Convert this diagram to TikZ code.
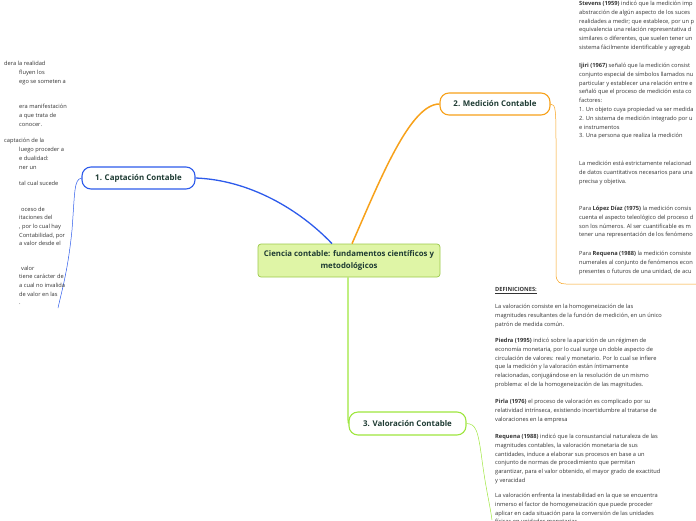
\documentclass[tikz,border=0pt]{standalone}
\usepackage{fontspec}
\setmainfont{Open Sans}
\definecolor{txt}{HTML}{333333}
\definecolor{ttl}{HTML}{1E3B33}
\definecolor{cblue}{HTML}{2D5BEB}
\definecolor{corange}{HTML}{F7A11A}
\definecolor{cgreen}{HTML}{9EE63E}
\definecolor{cfill}{HTML}{DFF5A6}
\definecolor{cborder}{HTML}{9CC94A}
\begin{document}
\begin{tikzpicture}[x=1pt,y=-1pt,
  body/.style={anchor=north west,inner sep=0pt,align=left,text=txt,font=\fontsize{5.7}{8.8}\selectfont},
  topic/.style={draw,rounded corners=9pt,line width=1.1pt,fill=white,text=ttl,font=\fontsize{7.9}{9}\selectfont\bfseries,inner sep=0pt},
]
\useasboundingbox (0,0) rectangle (696,520);
\begin{scope}
\clip (0,0) rectangle (696,520);
% central
\node[draw=cborder,fill=cfill,rounded corners=3pt,line width=0.7pt,minimum width=182pt,minimum height=33pt,align=center,text=ttl,font=\fontsize{7.8}{11.5}\selectfont\bfseries,inner sep=0pt] (c) at (349,260.5) {Ciencia contable: fundamentos científicos y\\metodológicos};
\node[topic,draw=cblue,minimum width=113pt,minimum height=22pt] (t1) at (138.5,178) {1. Captación Contable};
\node[topic,draw=corange,minimum width=110pt,minimum height=22pt] (t2) at (495,104) {2. Medición Contable};
\node[topic,draw=cgreen,minimum width=117pt,minimum height=23pt] (t3) at (407.5,423.5) {3. Valoración Contable};
% main connectors
\draw[cblue,line width=1.3pt] (c.north) ++(-17,0) coordinate (cb) (cb) .. controls (300,210) and (250,180) .. (t1.east);
\draw[corange,line width=1.5pt] (c.north) ++(3,0) coordinate (co) (co) .. controls (380,180) and (410,104) .. (t2.west);
\draw[cgreen,line width=1.3pt] (c.south) ++(-1,0) coordinate (cg) (cg) -- (348,412) .. controls (348,420) .. (t3.west);
% sub connectors
\coordinate (l1) at (58,308);
\draw[cblue,line width=0.5pt] (t1.west) .. controls (74,180) and (75,190) .. (72,230) .. controls (68,270) and (62,290) .. (l1);
\coordinate (r2a) at (566,284);
\coordinate (r2b) at (696,284);
\draw[corange,line width=0.5pt] (t2.east) .. controls (556,104) and (556,110) .. (556,150) -- (556,274) .. controls (556,282) and (560,284) .. (r2a) -- (r2b);
\coordinate (r3) at (492,520);
\draw[cgreen,line width=0.5pt] (t3.east) .. controls (476,424) and (478,430) .. (482,460) .. controls (486,490) and (490,505) .. (r3);
% left texts
\node[body,anchor=north west] (a1) at (4,61) {dera la realidad};
\node[body] (a2) at (19,70) {fluyen los\\ego se someten a};
\node[body] (a3) at (19,104) {era manifestación\\a que trata de\\conocer.};
\node[body] (a4) at (4,138) {captación de la};
\node[body] (a5) at (19,147) {luego proceder a\\e dualidad:\\ner un};
\node[body] (a6) at (19,181) {tal cual sucede};
\node[body] (a7) at (21,207) {oceso de};
\node[body] (a8) at (19,215) {itaciones del\\, por lo cual hay\\Contabilidad, por\\a valor desde el};
\node[body] (a9) at (21,266) {valor};
\node[body] (a10) at (19,274) {tiene carácter de\\a cual no invalida\\de valor en las\\.};
% right top texts
\node[body] (m1) at (579,1) {\textbf{Stevens (1959)} indicó que la medición imp\\abstracción de algún aspecto de los suces\\realidades a medir; que establece, por un p\\equivalencia una relación representativa d\\similares o diferentes, que suelen tener un\\sistema fácilmente identificable y agregab};
\node[body] (m2) at (579,63) {\textbf{Ijiri (1967)} señaló que la medición consist\\conjunto especial de símbolos llamados nu\\particular y establecer una relación entre e\\señaló que el proceso de medición esta co\\factores:\\1. Un objeto cuya propiedad va ser medida\\2. Un sistema de medición integrado por u\\e instrumentos\\3. Una persona que realiza la medición};
\node[body] (m3) at (579,161) {La medición está estrictamente relacionad\\de datos cuantitativos necesarios para una\\precisa y objetiva.};
\node[body] (m4) at (579,206) {Para \textbf{López Díaz (1975)} la medición consis\\cuenta el aspecto teleológico del proceso d\\son los números. Al ser cuantificable es m\\tener una representación de los fenómeno};
\node[body] (m5) at (579,251) {Para \textbf{Requena (1988)} la medición consiste\\numerales al conjunto de fenómenos econ\\presentes o futuros de una unidad, de acu};
% bottom texts
\node[body] (v0) at (495,287) {\textbf{\underline{DEFINICIONES:}}};
\node[body] (v1) at (495,304) {La valoración consiste en la homogeneización de las\\magnitudes resultantes de la función de medición, en un único\\patrón de medida común.};
\node[body] (v2) at (495,338) {\textbf{Piedra (1995)} indicó sobre la aparición de un régimen de\\economía monetaria, por lo cual surge un doble aspecto de\\circulación de valores: real y monetario. Por lo cual se infiere\\que la medición y la valoración están íntimamente\\relacionadas, conjugándose en la resolución de un mismo\\problema: el de la homogeneización de las magnitudes.};
\node[body] (v3) at (495,399) {\textbf{Pirla (1976)} el proceso de valoración es complicado por su\\relatividad intrínseca, existiendo incertidumbre al tratarse de\\valoraciones en la empresa};
\node[body] (v4) at (495,434) {\textbf{Requena (1988)} indicó que la consustancial naturaleza de las\\magnitudes contables, la valoración monetaria de sus\\cantidades, induce a elaborar sus procesos en base a un\\conjunto de normas de procedimiento que permitan\\garantizar, para el valor obtenido, el mayor grado de exactitud\\y veracidad};
\node[body] (v5) at (495,493) {La valoración enfrenta la inestabilidad en la que se encuentra\\inmerso el factor de homogeneización que puede proceder\\aplicar en cada situación para la conversión de las unidades\\físicas en unidades monetarias};
\end{scope}
\end{tikzpicture}
\end{document}
